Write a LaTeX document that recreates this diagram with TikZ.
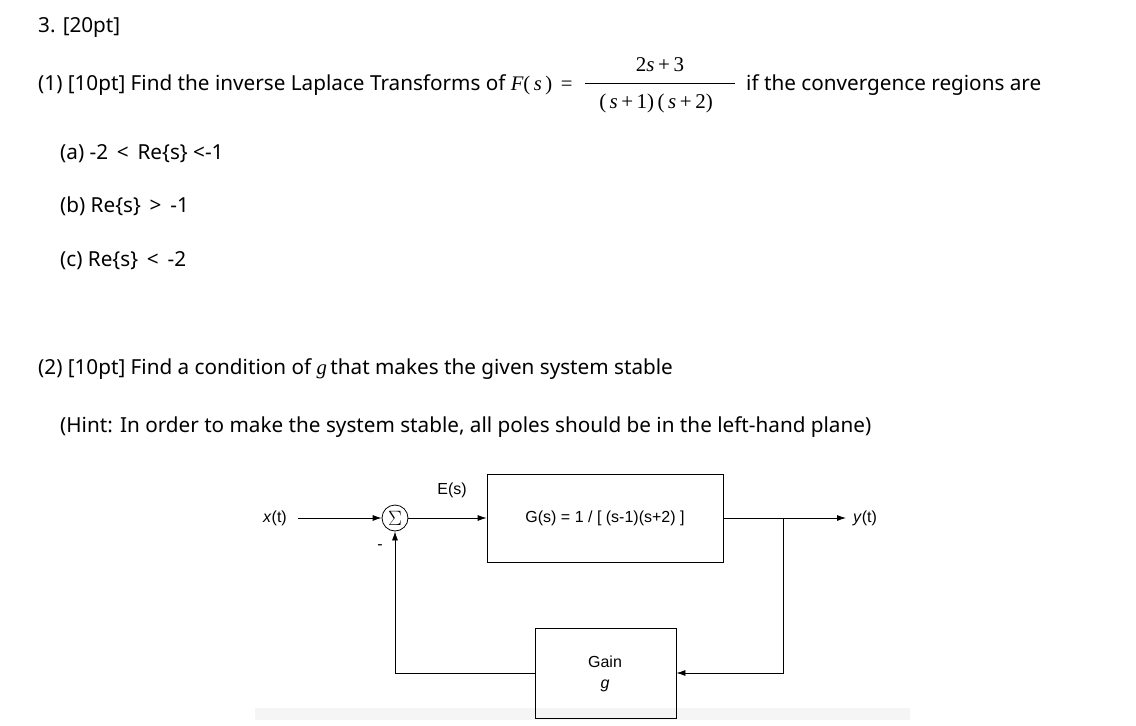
\documentclass[tikz,border=0pt]{standalone}
\usepackage{fontspec}
\setmainfont{Noto Sans}
\newfontfamily\arialf{Liberation Sans}
\newfontfamily\timesf{Liberation Serif}
\usetikzlibrary{arrows.meta}
\begin{document}
\begin{tikzpicture}[x=1pt,y=-1pt,
  txt/.style={anchor=base west,inner sep=0pt,font=\fontsize{20.7}{24}\selectfont},
  dtxt/.style={inner sep=0pt,font=\arialf\fontsize{16}{18}\selectfont},
  blk/.style={draw,line width=0.8pt},
  sig/.style={line width=0.8pt,-{Latex[length=9pt,width=6pt]}},
  ln/.style={line width=0.8pt}]
\useasboundingbox[fill=white] (0,0) rectangle (1136,726);
\fill[black!4] (255,708) rectangle (910,720);
\node[txt] (t3) at (38,32) {3. [20pt]};
\node[txt] (p1) at (38,90) {(1) [10pt] Find the inverse Laplace Transforms of {\timesf\itshape F}{\timesf(\,\itshape s\upshape\,) \,=}};
\node[inner sep=0pt,font=\timesf\fontsize{21}{24}\selectfont] (num) at (660,65) {2\textit{s}\,+\,3};
\node[inner sep=0pt,font=\timesf\fontsize{21}{24}\selectfont] (den) at (656,103) {(\,\textit{s}\,+\,1)\,(\,\textit{s}\,+\,2)};
\draw[line width=0.7pt] (585,83) -- (735,83);
\node[txt] (p1b) at (746,90) {if the convergence regions are};
\node[txt] (a) at (60,159) {(a) -2 \,<\, Re\{s\} <-1};
\node[txt] (b) at (60,212) {(b) Re\{s\} \,>\, -1};
\node[txt] (c) at (60,266) {(c) Re\{s\} \,<\, -2};
\node[txt] (p2) at (38,374) {(2) [10pt] Find a condition of {\timesf\itshape g\,}that makes the given system stable};
\node[txt] (h) at (60,432) {(Hint: In order to make the system stable, all poles should be in the left-hand plane)};
% diagram
\node[dtxt] (x) at (275,518) {\textit{x}(t)};
\node[draw,circle,minimum size=26pt,inner sep=0pt,ln,font=\fontsize{20}{20}\selectfont] (sum) at (395,518) {$\Sigma$};
\node[dtxt] (e) at (452,490) {E(s)};
\node[blk,minimum width=236pt,minimum height=88pt] (G) at (605,518) {\arialf\fontsize{16}{18}\selectfont G(s) = 1 / [ (s-1)(s+2) ]};
\node[dtxt] (y) at (865,518) {\textit{y}(t)};
\node[blk,minimum width=141pt,minimum height=90pt] (K) at (605.5,673) {};
\node[dtxt] (gain) at (605,662) {Gain};
\node[dtxt] (g) at (605,686) {\textit{g}};
\node[dtxt] (minus) at (380,547) {-};
\coordinate (br) at (783,518);
\coordinate (yend) at (846,518);
\draw[sig] (298,518) -- (sum);
\draw[sig] (sum) -- (G);
\draw[ln] (G.east) -- (br);
\draw[sig] (br) -- (yend);
\draw[sig] (br) |- (K.east);
\draw[sig] (K.west) -| (sum.south);
\fill[white] (255,720) rectangle (910,726);
\end{tikzpicture}
\end{document}
